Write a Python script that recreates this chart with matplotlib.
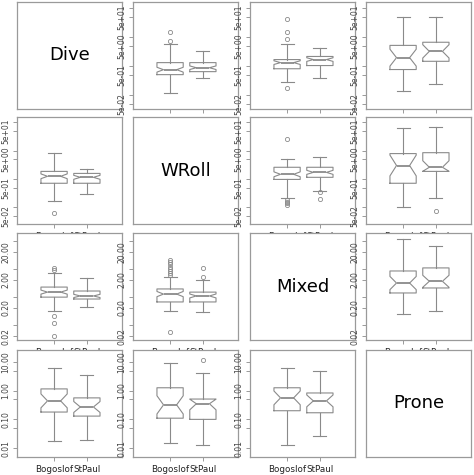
import matplotlib
matplotlib.use("Agg")
import matplotlib.pyplot as plt
import numpy as np

names = ["Dive", "WRoll", "Mixed", "Prone"]
groups = ["Bogoslof", "StPaul"]

# (q1, med, q3, whislo, whishi, fliers) per panel, per group
stats = {
    (0, 1): [(0.52, 0.77, 1.35, 0.12, 6.0, [15, 7.5]),
             (0.66, 0.90, 1.35, 0.40, 3.3, [])],
    (0, 2): [(0.83, 1.35, 1.72, 0.30, 5.7, [43, 15, 8.5, 0.18]),
             (1.07, 1.72, 2.2, 0.41, 4.2, [])],
    (0, 3): [(0.78, 2.0, 5.3, 0.145, 50, []),
             (1.5, 3.3, 6.8, 0.25, 50, [])],
    (1, 0): [(0.71, 1.25, 1.86, 0.17, 8.5, [0.065]),
             (0.71, 1.15, 1.58, 0.30, 2.3, [])],
    (1, 2): [(0.97, 1.47, 2.6, 0.21, 5.2, [26, 0.19, 0.16, 0.14, 0.12]),
             (1.15, 1.72, 2.6, 0.37, 6.2, [0.34, 0.2])],
    (1, 3): [(0.71, 3.0, 7.9, 0.105, 63, []),
             (1.86, 2.6, 8.5, 0.21, 69, [0.076])],
    (2, 0): [(0.49, 0.74, 1.12, 0.16, 3.5, [5.4, 4.5, 0.1, 0.059, 0.02]),
             (0.42, 0.54, 0.81, 0.22, 2.3, [])],
    (2, 1): [(0.33, 0.63, 0.96, 0.16, 2.6, [10, 8.5, 7.2, 6, 5, 4.3, 3.6, 3.0, 0.029]),
             (0.33, 0.54, 0.74, 0.14, 2.0, [5.2, 2.6])],
    (2, 3): [(0.69, 1.56, 4.2, 0.12, 60, []),
             (1.04, 1.8, 5.4, 0.16, 32, [])],
    (3, 0): [(0.18, 0.44, 1.15, 0.018, 6.2, []),
             (0.13, 0.27, 0.56, 0.019, 3.5, [])],
    (3, 1): [(0.11, 0.32, 1.26, 0.015, 9.3, []),
             (0.10, 0.35, 0.51, 0.013, 4.0, [12])],
    (3, 2): [(0.20, 0.56, 1.26, 0.013, 6.2, []),
             (0.17, 0.44, 0.83, 0.026, 5.0, [])],
}
notch_k = {(0, 3): 0.35, (1, 3): 0.35, (2, 3): 0.3, (3, 0): 0.3, (3, 1): 0.3, (3, 2): 0.3}

row_ylim = [(0.034, 166), (0.026, 154), (0.0145, 95), (0.0049, 26)]
row_ticks = [[0.05, 0.1, 0.5, 1, 5, 10, 50, 100]] * 2 + \
    [[0.02, 0.05, 0.2, 0.5, 2, 5, 20, 50], [0.01, 0.05, 0.1, 0.5, 1, 5, 10]]
row_labels = [{0.05: "5e-02", 0.5: "5e-01", 5: "5e+00", 50: "5e+01"}] * 2 + \
    [{0.02: "0.02", 0.2: "0.20", 2: "2.00", 20: "20.00"},
     {0.01: "0.01", 0.1: "0.10", 1: "1.00", 10: "10.00"}]

W, H = 474, 475
fig = plt.figure(figsize=(W / 100, H / 100), dpi=100)
col_left = [17, 133, 250, 366]
row_top = [2, 117, 233, 350]
pw, ph = 105, 107
frame = "#9a9a9a"
boxc = "#8a8a8a"

for r in range(4):
    for c in range(4):
        ax = fig.add_axes([col_left[c] / W, 1 - (row_top[r] + ph) / H, pw / W, ph / H])
        for s in ax.spines.values():
            s.set_color(frame)
            s.set_linewidth(0.9)
        if r == c:
            ax.set_xticks([])
            ax.set_yticks([])
            ax.text(0.5, 0.5, names[r], ha="center", va="center", fontsize=13,
                    transform=ax.transAxes)
            continue
        bl = []
        k = notch_k.get((r, c), 0.2)
        for g, (q1, med, q3, lo, hi, fl) in zip(groups, stats[(r, c)]):
            d = k * (np.log10(q3) - np.log10(q1))
            bl.append(dict(label=g, q1=q1, med=med, q3=q3, whislo=lo, whishi=hi,
                           fliers=fl, cilo=max(med / 10 ** d, q1 * 1.01),
                           cihi=min(med * 10 ** d, q3 / 1.01)))
        lp = dict(color=boxc, linewidth=0.8)
        ax.bxp(bl, positions=[1, 2], widths=0.8, shownotches=True,
               boxprops=lp, whiskerprops=lp, capprops=lp,
               medianprops=dict(color=boxc, linewidth=1.3),
               flierprops=dict(marker="o", markersize=3, markerfacecolor="none",
                               markeredgecolor=boxc, markeredgewidth=0.6),
               capwidths=0.4)
        ax.set_yscale("log")
        ax.set_xlim(-0.13, 3.07)
        ax.set_ylim(*row_ylim[r])
        ax.set_yticks(row_ticks[r])
        ax.set_yticklabels([row_labels[r].get(t, "") for t in row_ticks[r]],
                           rotation=90, va="center", fontsize=5.5)
        ax.minorticks_off()
        ax.set_xticks([1, 2])
        ax.set_xticklabels(groups, fontsize=6.3)
        ax.tick_params(colors=frame, labelcolor="#444444", length=3, width=0.7, pad=2)
        ax.tick_params(axis="x", labelcolor="#222222", pad=3)

fig.savefig("out.png", dpi=100)
